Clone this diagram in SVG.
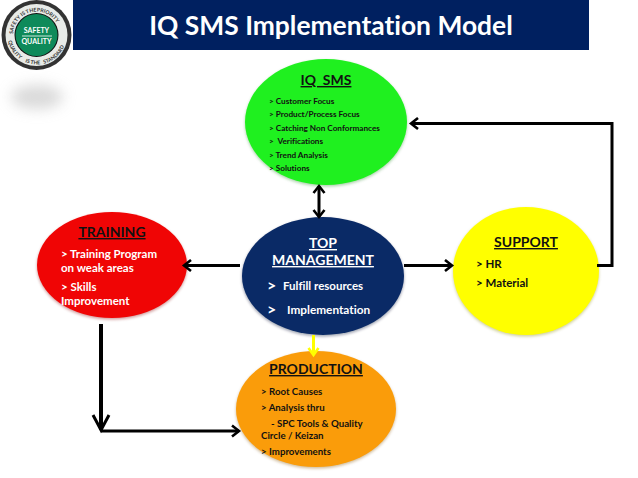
<svg xmlns="http://www.w3.org/2000/svg" xmlns:xlink="http://www.w3.org/1999/xlink" width="638" height="478" viewBox="0 0 638 478">
<style>
text{font-family:"Lato","Open Sans","Liberation Sans",sans-serif;font-weight:700;font-variant-ligatures:none}
.h{font-size:14px;text-anchor:middle;text-decoration:underline}
.s{font-size:8.2px;fill:#111}
.p{font-size:9.7px;fill:#111}
.m{font-size:11.5px;fill:#111}
.w{font-size:11.5px;fill:#fff}
.g{font-size:16px;fill:#fff}
.c{fill:none;stroke:#000;stroke-width:3}
.lg{font-size:5.2px;fill:#333}
</style>
<defs>
<filter id="sh" x="-20%" y="-20%" width="140%" height="140%"><feGaussianBlur stdDeviation="1.5"/></filter>
<filter id="soft" x="-50%" y="-80%" width="200%" height="260%"><feGaussianBlur stdDeviation="7"/></filter>
<marker id="a" markerUnits="userSpaceOnUse" markerWidth="14" markerHeight="14" refX="11" refY="7" orient="auto-start-reverse"><path d="M4 1.500 L11 7 L4 12.500" fill="none" stroke="#000" stroke-width="2.6"/></marker>
<marker id="y" markerUnits="userSpaceOnUse" markerWidth="14" markerHeight="14" refX="11" refY="7" orient="auto"><path d="M4 2 L11 7 L4 12" fill="none" stroke="#ff0" stroke-width="2.6"/></marker>
<path id="lt" d="M13 35 A23.500 23.500 0 0 1 60 35"/>
<path id="lb" d="M7.500 35 A29.500 29.500 0 0 0 66.500 35"/>
</defs>
<rect width="638" height="478" fill="#fff"/>
<g id="banner"><rect x="73" y="0" width="516" height="50" fill="#002060"/>
<text x="331" y="35" text-anchor="middle" fill="#fff" style="font-size:26.400px">IQ SMS Implementation Model</text></g>
<g id="logo">
<ellipse cx="37" cy="97" rx="26" ry="12" fill="#bbb" opacity=".55" filter="url(#soft)"/>
<circle cx="36.500" cy="35" r="35" fill="#333"/>
<circle cx="36.500" cy="35" r="31" fill="#e8ebe8"/>
<circle cx="36.500" cy="35" r="22" fill="#111"/>
<circle cx="36.500" cy="35" r="21" fill="#0e8a5a"/>
<text class="lg"><textPath xlink:href="#lt" href="#lt" startOffset="1">SAFETY</textPath></text>
<text class="lg"><textPath xlink:href="#lt" href="#lt" startOffset="21">IS THE</textPath></text>
<text class="lg"><textPath xlink:href="#lt" href="#lt" startOffset="37">PRIORITY</textPath></text>
<text class="lg"><textPath xlink:href="#lb" href="#lb" startOffset="6">QUALITY</textPath></text>
<text class="lg"><textPath xlink:href="#lb" href="#lb" startOffset="34">IS THE</textPath></text>
<text class="lg"><textPath xlink:href="#lb" href="#lb" startOffset="53">STANDARD</textPath></text>
<line x1="22" y1="36" x2="52" y2="36" stroke="#fff" stroke-width=".8"/>
<text x="36.500" y="33" text-anchor="middle" fill="#fff" style="font-size:7px">SAFETY</text>
<text x="36.500" y="44" text-anchor="middle" fill="#fff" style="font-size:7px">QUALITY</text>
</g>
<g id="iq-sms">
<ellipse cx="326" cy="123.500" rx="81" ry="63" fill="#2e8b2e" opacity=".4" filter="url(#sh)"/>
<ellipse cx="326" cy="122" rx="81" ry="63" fill="#1ff01f"/>
<text x="326" y="85" class="h" fill="#111" xml:space="preserve" style="white-space:pre">IQ  SMS</text>
<text x="269" y="104" class="s">&gt; Customer Focus</text>
<text x="269" y="117" class="s">&gt; Product/Process Focus</text>
<text x="269" y="131" class="s">&gt; Catching Non Conformances</text>
<text x="269" y="144" class="s" xml:space="preserve" style="white-space:pre">&gt;  Verifications</text>
<text x="269" y="158" class="s">&gt; Trend Analysis</text>
<text x="269" y="171" class="s">&gt; Solutions</text>
</g>
<g id="training">
<ellipse cx="112" cy="266.500" rx="75" ry="53" fill="#800" opacity=".4" filter="url(#sh)"/>
<ellipse cx="112" cy="265" rx="75" ry="53" fill="#f00505"/>
<text x="112" y="237" class="h" fill="#111">TRAINING</text>
<text x="61" y="258" class="w">&gt; Training Program</text>
<text x="61" y="272" class="w">on weak areas</text>
<text x="61" y="291" class="w">&gt; Skills</text>
<text x="61" y="305" class="w">Improvement</text>
</g>
<g id="top-management">
<ellipse cx="323" cy="277.500" rx="81" ry="59" fill="#001030" opacity=".4" filter="url(#sh)"/>
<ellipse cx="323" cy="276" rx="81" ry="59" fill="#0a2a66"/>
<text x="323" y="248" class="h" fill="#fff">TOP</text>
<text x="323" y="265" class="h" fill="#fff">MANAGEMENT</text>
<text x="267" y="291" class="g">&gt;</text>
<text x="283" y="290" class="w">Fulfill resources</text>
<text x="267" y="315" class="g">&gt;</text>
<text x="287" y="314" class="w" style="font-size:11.800px">Implementation</text>
</g>
<g id="support">
<ellipse cx="526" cy="272.500" rx="73" ry="64" fill="#888800" opacity=".4" filter="url(#sh)"/>
<ellipse cx="526" cy="271" rx="73" ry="64" fill="#ffff00"/>
<text x="526" y="247" class="h" fill="#111">SUPPORT</text>
<text x="476" y="268" class="m">&gt; HR</text>
<text x="476" y="287" class="m">&gt; Material</text>
</g>
<g id="production">
<ellipse cx="316" cy="410.500" rx="80" ry="58" fill="#885500" opacity=".4" filter="url(#sh)"/>
<ellipse cx="316" cy="409" rx="80" ry="58" fill="#fa9c0a"/>
<text x="316" y="374" class="h" fill="#111">PRODUCTION</text>
<text x="261" y="395" class="p">&gt; Root Causes</text>
<text x="261" y="411" class="p">&gt; Analysis thru</text>
<text x="271" y="427" class="p">- SPC Tools &amp; Quality</text>
<text x="261" y="439" class="p">Circle / Keizan</text>
<text x="261" y="455" class="p">&gt; Improvements</text>
</g>
<g id="connectors">
<path class="c" d="M319 186 V217" marker-start="url(#a)" marker-end="url(#a)"/>
<path class="c" d="M597 265.500 H612 V123.500 H411" marker-end="url(#a)"/>
<path class="c" d="M240 265.500 H184" marker-end="url(#a)"/>
<path class="c" d="M404 265.500 H452" marker-end="url(#a)"/>
<path d="M101 324 V430" stroke="#000" stroke-width="4" fill="none"/>
<path d="M93 415 L101 430 L109 415" stroke="#000" stroke-width="3" fill="none"/>
<path class="c" d="M101 431 H239" marker-end="url(#a)"/>
<path d="M313.500 335 V355" stroke="#ff0" stroke-width="3" fill="none" marker-end="url(#y)"/>
</g>
</svg>
